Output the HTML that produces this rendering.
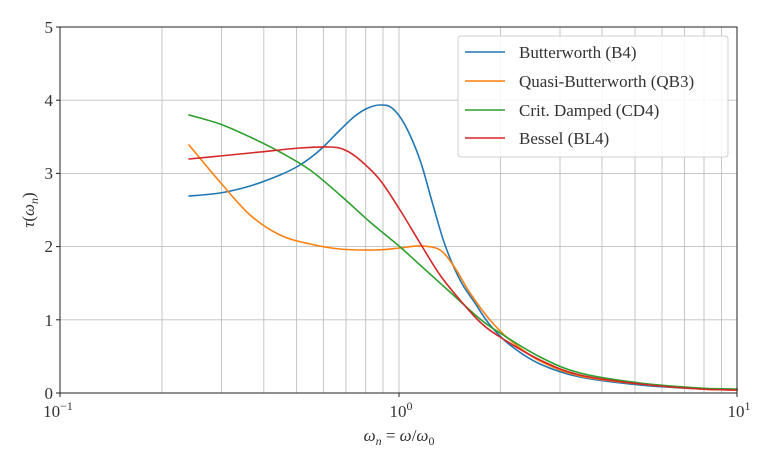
<!DOCTYPE html>
<html><head><meta charset="utf-8"><style>
body{margin:0;background:#fff;}
svg{display:block;font-family:"Liberation Serif",serif;}
</style></head><body>
<svg width="765" height="455" viewBox="0 0 765 455" xmlns="http://www.w3.org/2000/svg">
<g stroke="#b0b0b0" stroke-width="0.9" opacity="0.8">
<line x1="162" y1="27" x2="162" y2="393"/><line x1="221.5" y1="27" x2="221.5" y2="393"/><line x1="263.8" y1="27" x2="263.8" y2="393"/><line x1="296.6" y1="27" x2="296.6" y2="393"/><line x1="323.4" y1="27" x2="323.4" y2="393"/><line x1="346" y1="27" x2="346" y2="393"/><line x1="365.7" y1="27" x2="365.7" y2="393"/><line x1="383" y1="27" x2="383" y2="393"/><line x1="399" y1="27" x2="399" y2="393"/>
<line x1="500.5" y1="27" x2="500.5" y2="393"/><line x1="560" y1="27" x2="560" y2="393"/><line x1="602" y1="27" x2="602" y2="393"/><line x1="635" y1="27" x2="635" y2="393"/><line x1="662" y1="27" x2="662" y2="393"/><line x1="684.5" y1="27" x2="684.5" y2="393"/><line x1="704" y1="27" x2="704" y2="393"/><line x1="721.5" y1="27" x2="721.5" y2="393"/>
<line x1="60" y1="100.2" x2="737" y2="100.2"/><line x1="60" y1="173.4" x2="737" y2="173.4"/><line x1="60" y1="246.6" x2="737" y2="246.6"/><line x1="60" y1="319.8" x2="737" y2="319.8"/>
</g>
<g fill="none" stroke-width="1.6" stroke-linejoin="round" stroke-linecap="round" id="curves">
<polyline stroke="#1f77b4" points="189,196 220,193 250,186 280,175 300,165 320,150 340,130 355,116 368,108 380,105 392,108 405,125 420,160 433,205 445,245 460,280 475,303 490,325 510,345 540,364 580,377 640,385 700,389 737,390"/>
<polyline stroke="#ff7f0e" points="189,145 220,182 250,215 280,235 310,244 340,249 375,250 400,248 420,246 440,250 455,268 470,293 490,320 510,340 540,361 580,376 640,384 700,389 737,390"/>
<polyline stroke="#2ca02c" points="189,115 220,124 250,137 280,152 310,170 340,195 370,222 399,246 420,265 450,292 480,319 500,333 540,357 580,373 640,383 700,388 737,389"/>
<polyline stroke="#d62728" points="189,159 220,156 260,152 300,148 330,147 345,150 360,160 380,180 400,210 420,243 440,275 460,300 480,322 500,337 540,360 580,375 640,384 700,389 737,390"/>
</g>
<rect x="60" y="27" width="677" height="366" fill="none" stroke="#222" stroke-width="1"/>
<g stroke="#222" stroke-width="1">
<line x1="56" y1="27" x2="60" y2="27"/><line x1="56" y1="100.2" x2="60" y2="100.2"/><line x1="56" y1="173.4" x2="60" y2="173.4"/><line x1="56" y1="246.6" x2="60" y2="246.6"/><line x1="56" y1="319.8" x2="60" y2="319.8"/><line x1="56" y1="393" x2="60" y2="393"/>
<line x1="60" y1="393" x2="60" y2="397"/><line x1="399" y1="393" x2="399" y2="397"/><line x1="737" y1="393" x2="737" y2="397"/>
</g>
<g font-size="17" fill="#333" text-anchor="end">
<text x="53" y="33">5</text><text x="53" y="106">4</text><text x="53" y="179">3</text><text x="53" y="252">2</text><text x="53" y="326">1</text><text x="53" y="399">0</text>
</g>
<g font-size="17" fill="#333" text-anchor="middle">
<text x="58" y="417">10<tspan font-size="12" dy="-7">−1</tspan></text>
<text x="401" y="417">10<tspan font-size="12" dy="-7">0</tspan></text>
<text x="739" y="417">10<tspan font-size="12" dy="-7">1</tspan></text>
<text x="399" y="441" font-style="italic">ω<tspan font-size="12" dy="4">n</tspan><tspan dy="-4" font-style="normal"> = </tspan>ω<tspan font-style="normal">/</tspan>ω<tspan font-size="12" dy="4" font-style="normal">0</tspan></text>
<text transform="translate(34,210) rotate(-90)" font-style="italic">τ<tspan font-style="normal">(</tspan>ω<tspan font-size="12" dy="4">n</tspan><tspan dy="-4" font-style="normal">)</tspan></text>
</g>
<rect x="458" y="36" width="270" height="121" rx="3" fill="#fff" fill-opacity="0.85" stroke="#d0d0d0"/>
<g stroke-width="1.6">
<line x1="465" y1="52" x2="505" y2="52" stroke="#1f77b4"/>
<line x1="465" y1="81" x2="505" y2="81" stroke="#ff7f0e"/>
<line x1="465" y1="110" x2="505" y2="110" stroke="#2ca02c"/>
<line x1="465" y1="138" x2="505" y2="138" stroke="#d62728"/>
</g>
<g font-size="17" fill="#333">
<text x="519" y="58">Butterworth (B4)</text>
<text x="519" y="87">Quasi-Butterworth (QB3)</text>
<text x="519" y="116">Crit. Damped (CD4)</text>
<text x="519" y="144">Bessel (BL4)</text>
</g>
</svg>
<script>
(function(){
var ns="http://www.w3.org/2000/svg";
var g=document.getElementById("curves");
var pls=Array.prototype.slice.call(g.querySelectorAll("polyline"));
pls.forEach(function(pl){
  var p=pl.getAttribute("points").trim().split(/\s+/).map(function(s){var a=s.split(",");return [+a[0],+a[1]];});
  var d="M"+p[0][0]+","+p[0][1];
  for(var i=0;i<p.length-1;i++){
    var p0=p[i-1]||p[i],p1=p[i],p2=p[i+1],p3=p[i+2]||p2;
    var c1x=p1[0]+(p2[0]-p0[0])/6,c1y=p1[1]+(p2[1]-p0[1])/6;
    var c2x=p2[0]-(p3[0]-p1[0])/6,c2y=p2[1]-(p3[1]-p1[1])/6;
    d+=" C"+c1x.toFixed(2)+","+c1y.toFixed(2)+" "+c2x.toFixed(2)+","+c2y.toFixed(2)+" "+p2[0]+","+p2[1];
  }
  var path=document.createElementNS(ns,"path");
  path.setAttribute("d",d);
  path.setAttribute("stroke",pl.getAttribute("stroke"));
  g.replaceChild(path,pl);
});
})();
</script>
</body></html>
